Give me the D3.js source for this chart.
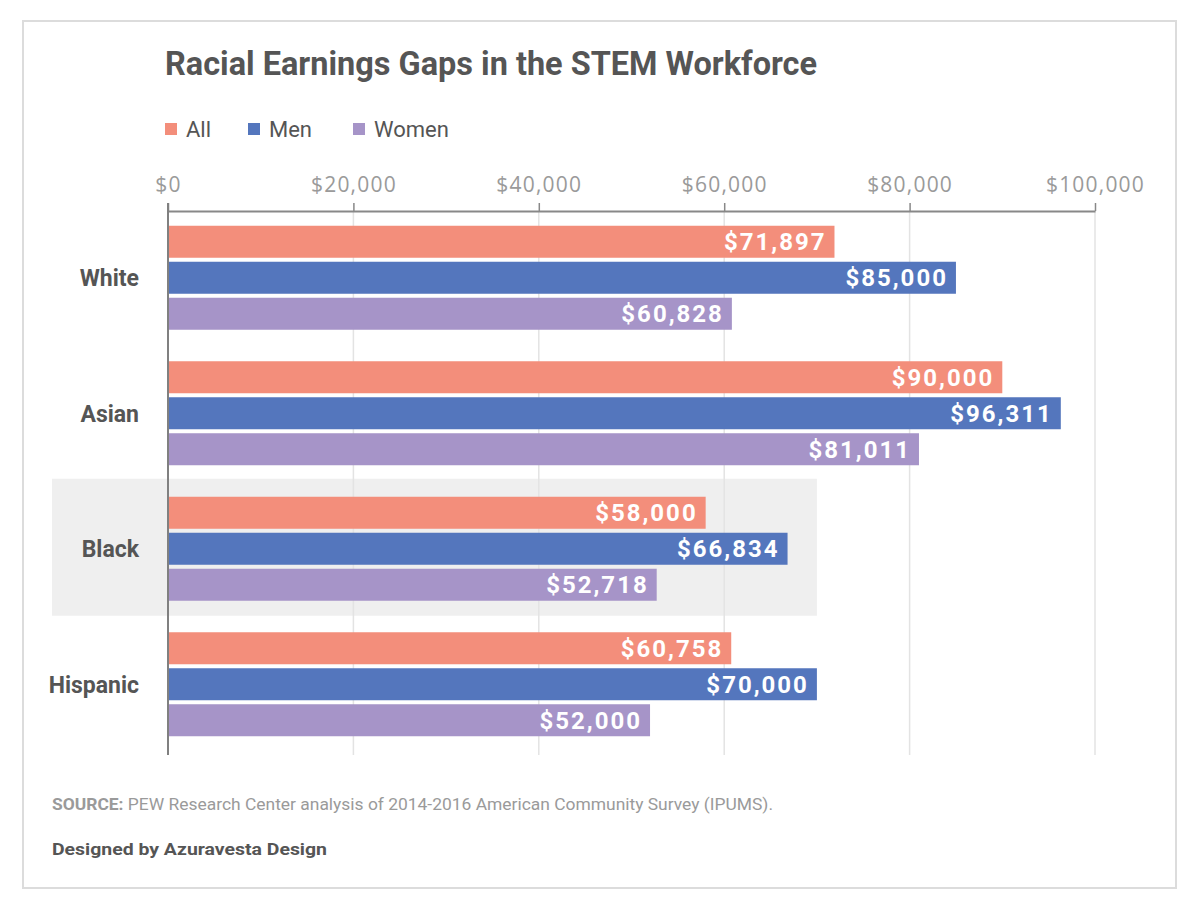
<!DOCTYPE html>
<html><head><meta charset="utf-8">
<script src="https://cdn.jsdelivr.net/npm/d3@7"></script>
<style>
body{margin:0;background:#fff;}
svg{display:block;font-family:Roboto, "Liberation Sans", sans-serif;}
</style></head>
<body><svg id="c" width="1200" height="910"></svg>
<script>
const categories = ["White","Asian","Black","Hispanic"];
const seriesNames = ["All","Men","Women"];
const allValues = [71897, 90000, 58000, 60758];
const menValues = [85000, 96311, 66834, 70000];
const womenValues = [60828, 81011, 52718, 52000];
const tickValues = [0,20000,40000,60000,80000,100000];
const highlighted = "Black";
const colors = ["#f38e7b","#5476bd","#a694c8"];

const svg = d3.select("#c");
// frame
svg.append("rect").attr("x",23).attr("y",21).attr("width",1153).attr("height",867)
  .attr("fill","#fff").attr("stroke","#dcdcdc").attr("stroke-width",2);

const x = d3.scaleLinear().domain([0,100000]).range([168,1095]);
const y = d3.scaleBand().domain(categories).range([210,752]).padding(0);
const yi = d3.scaleBand().domain(seriesNames).range([0,y.bandwidth()]).paddingInner(0.111).paddingOuter(0.4375);

const data = categories.map((c,i)=>({cat:c, vals:[allValues[i],menValues[i],womenValues[i]]}));

// highlight band
svg.append("rect").attr("x",52).attr("y",y(highlighted)+y.bandwidth()*0.5-70)
  .attr("width",x(70000)-52).attr("height",137).attr("fill","#efefef");

// gridlines
svg.append("g").selectAll("line").data(tickValues.slice(1)).join("line")
  .attr("x1",d=>x(d)).attr("x2",d=>x(d)).attr("y1",211).attr("y2",755)
  .attr("stroke","#e3e3e3").attr("stroke-width",1.5);

// top axis
const axis = d3.axisTop(x).tickValues(tickValues).tickSize(8).tickSizeOuter(0)
  .tickFormat(d=>"$"+d3.format(",")(d));
const ag = svg.append("g").attr("transform","translate(0,211)").call(axis);
ag.select(".domain").attr("stroke","#888").attr("stroke-width",2);
ag.selectAll(".tick line").attr("stroke","#888").attr("stroke-width",1.5);
ag.selectAll(".tick text").attr("fill","#9a9a9a").attr("font-size",21)
  .attr("font-family","'Open Sans', sans-serif").attr("dy",-8).style("letter-spacing","1.2px");

// bars
const groups = svg.append("g").selectAll("g").data(data).join("g")
  .attr("transform",d=>`translate(0,${y(d.cat)})`);
groups.selectAll("rect").data(d=>d.vals.map((v,i)=>({v,s:seriesNames[i],i}))).join("rect")
  .attr("x",x(0)).attr("y",d=>yi(d.s)).attr("width",d=>x(d.v)-x(0)).attr("height",yi.bandwidth())
  .attr("fill",d=>colors[d.i]);
groups.selectAll("text").data(d=>d.vals.map((v,i)=>({v,s:seriesNames[i],i}))).join("text")
  .attr("x",d=>x(d.v)-8).attr("y",d=>yi(d.s)+yi.bandwidth()/2).attr("dy","0.36em")
  .attr("text-anchor","end").attr("fill","#fff").attr("font-weight","bold").attr("font-size",24)
  .style("letter-spacing","2px")
  .text(d=>"$"+d3.format(",")(d.v));

// $0 axis line
svg.append("line").attr("x1",x(0)).attr("x2",x(0)).attr("y1",203).attr("y2",755)
  .attr("stroke","#808080").attr("stroke-width",2);

// category labels
svg.append("g").selectAll("text").data(categories).join("text")
  .attr("x",139).attr("y",d=>y(d)+y.bandwidth()/2).attr("dy","0.36em").attr("text-anchor","end")
  .attr("font-weight","bold").attr("font-size",23).attr("fill","#555").text(d=>d);

// title
svg.append("text").attr("x",165).attr("y",75).attr("font-size",33).attr("font-weight","bold")
  .attr("fill","#555").attr("textLength",652).attr("lengthAdjust","spacingAndGlyphs")
  .text("Racial Earnings Gaps in the STEM Workforce");

// legend
const legX = [165,248,353];
const leg = svg.append("g").selectAll("g").data(seriesNames).join("g")
  .attr("transform",(d,i)=>`translate(${legX[i]},0)`);
leg.append("rect").attr("x",0).attr("y",123).attr("width",12).attr("height",12).attr("fill",(d,i)=>colors[i]);
leg.append("text").attr("x",21).attr("y",137).attr("font-size",22).attr("fill","#555").text(d=>d);

// source
const src = svg.append("text").attr("x",52).attr("y",810).attr("font-size",16).attr("fill","#9a9a9a")
  .attr("textLength",721).attr("lengthAdjust","spacingAndGlyphs");
src.append("tspan").attr("font-weight","bold").text("SOURCE:");
src.append("tspan").text(" PEW Research Center analysis of 2014-2016 American Community Survey (IPUMS).");
svg.append("text").attr("x",52).attr("y",855).attr("font-size",17).attr("font-weight","bold").attr("fill","#555")
  .attr("textLength",275).attr("lengthAdjust","spacingAndGlyphs").text("Designed by Azuravesta Design");
</script></body></html>
